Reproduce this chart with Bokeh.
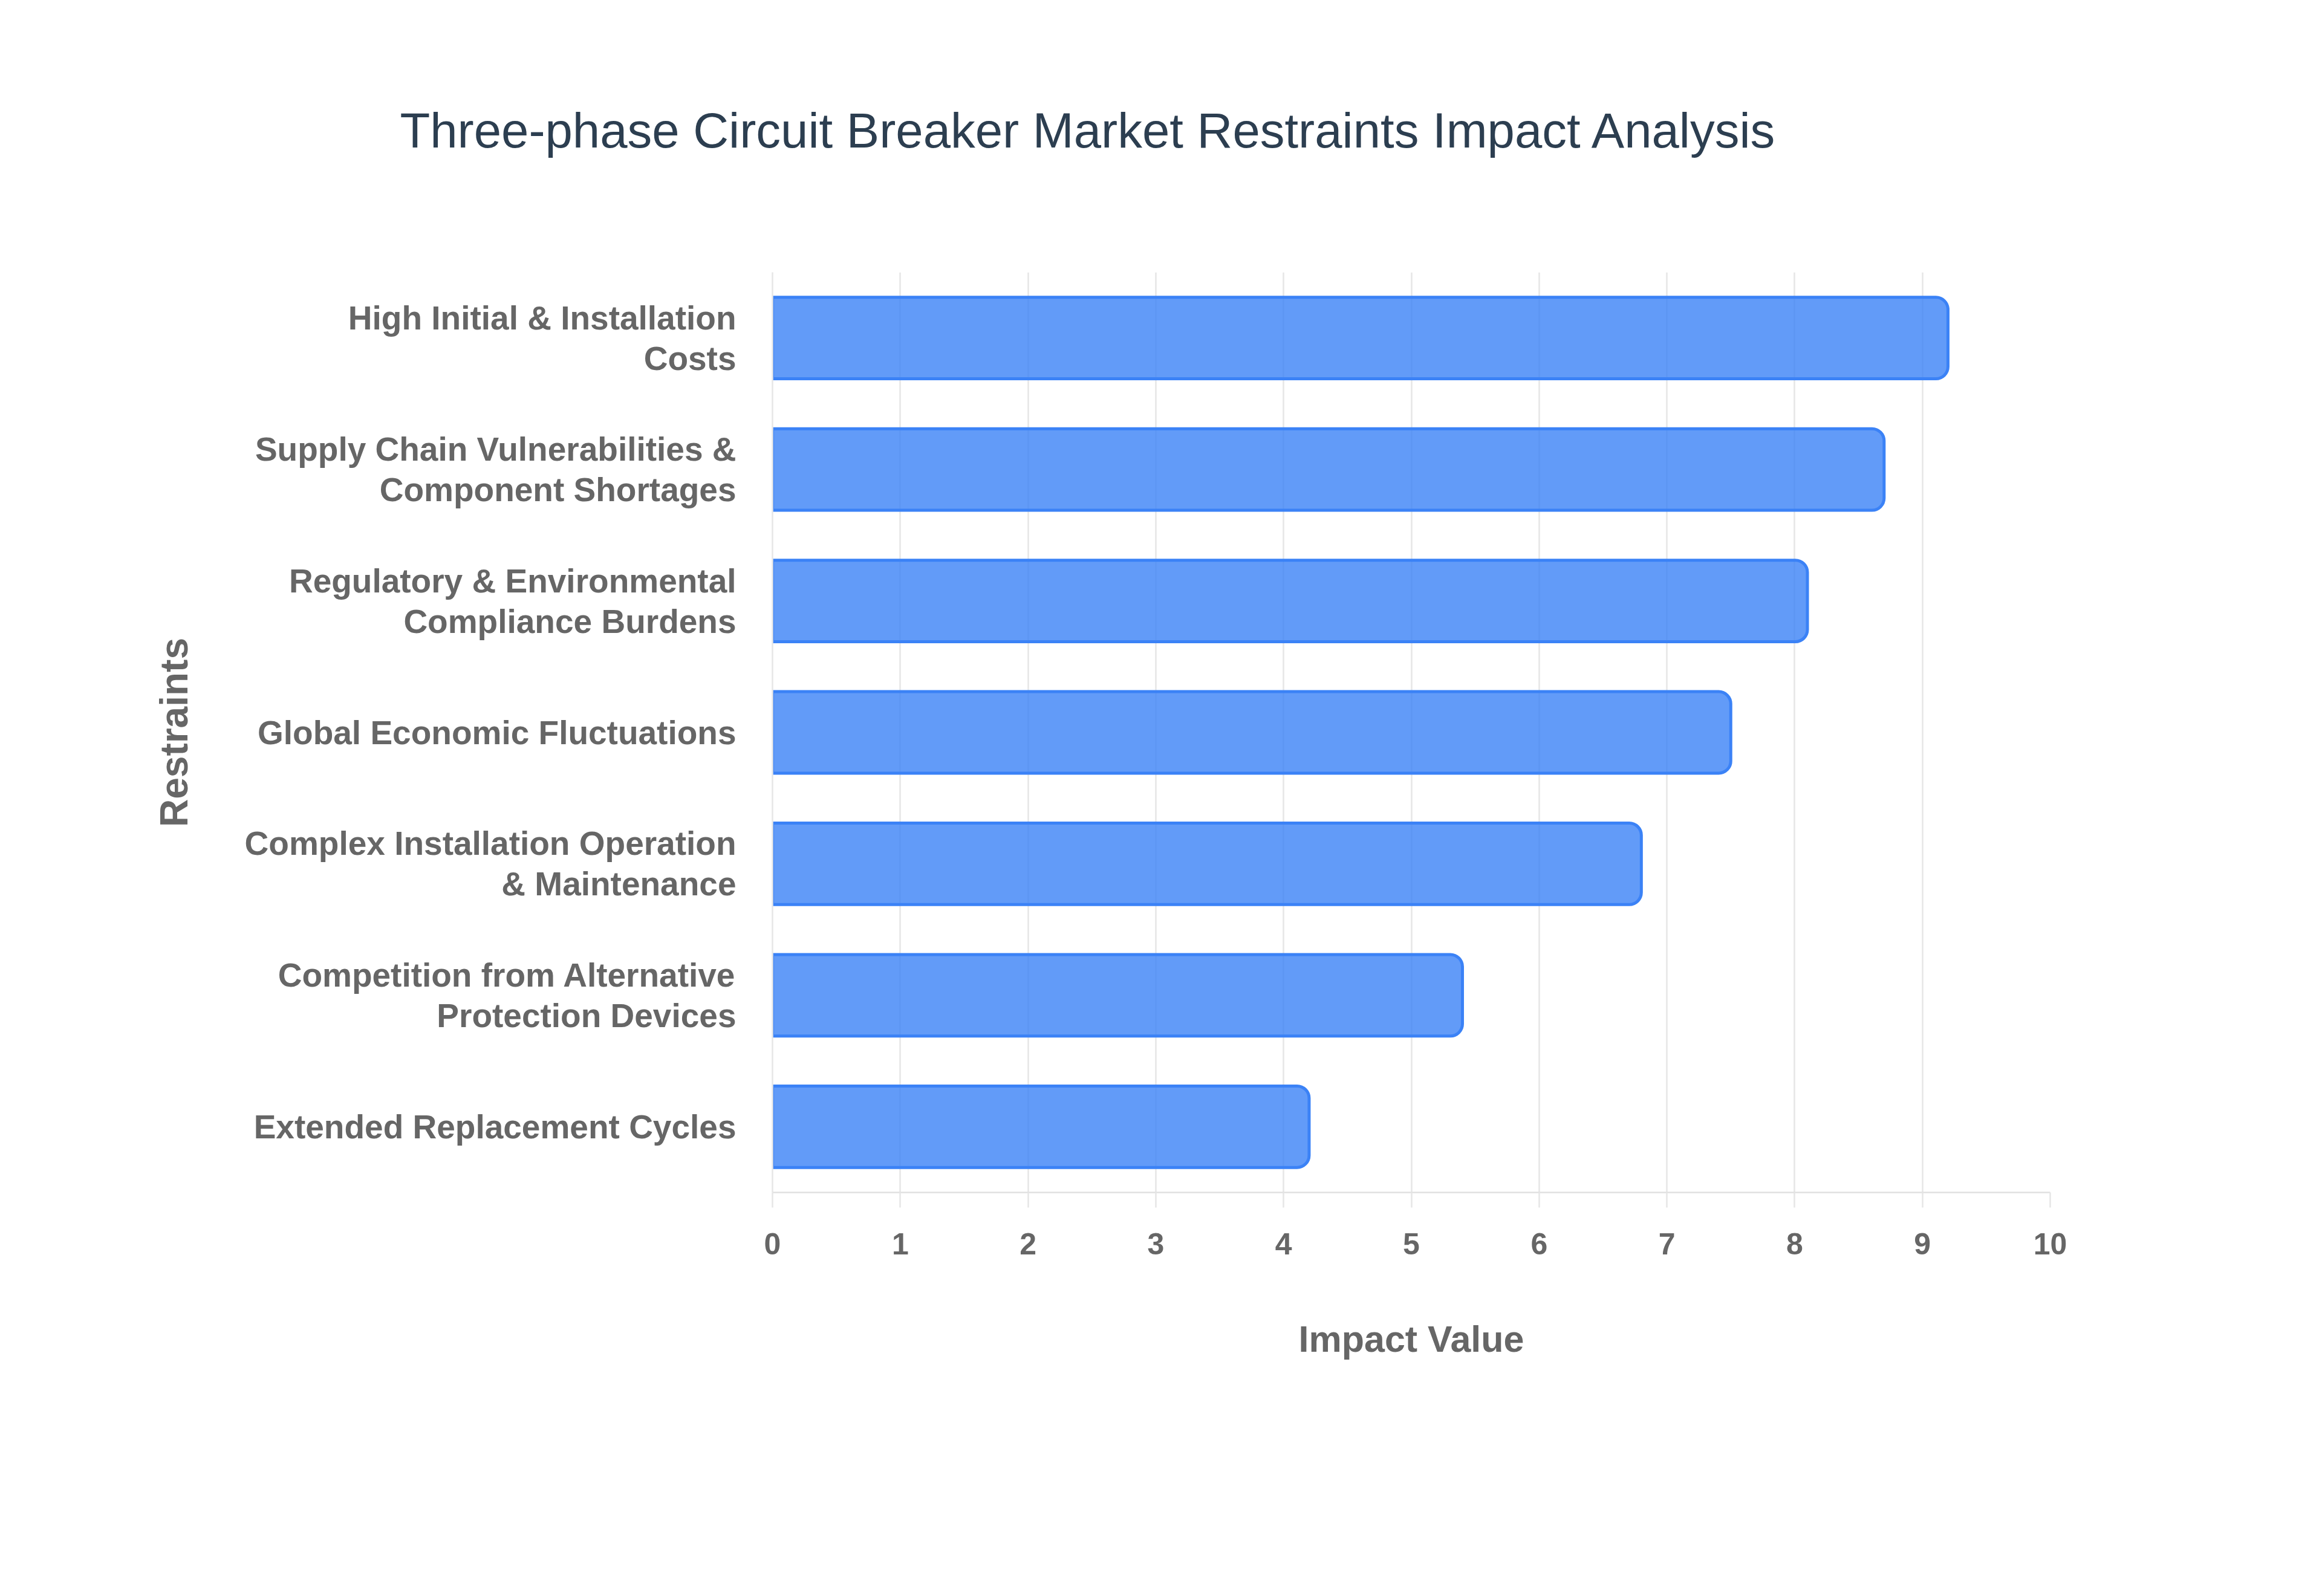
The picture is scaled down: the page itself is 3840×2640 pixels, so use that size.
from bokeh.plotting import figure
from bokeh.models import FactorRange, Range1d, FixedTicker, Title
from bokeh.embed import file_html
from bokeh.resources import INLINE

title_text = "Three-phase Circuit Breaker Market Restraints Impact Analysis"
categories = [
    "High Initial & Installation\nCosts",
    "Supply Chain Vulnerabilities &\nComponent Shortages",
    "Regulatory & Environmental\nCompliance Burdens",
    "Global Economic Fluctuations",
    "Complex Installation Operation\n& Maintenance",
    "Competition from Alternative\nProtection Devices",
    "Extended Replacement Cycles",
]
impact_values = [9.2, 8.7, 8.1, 7.5, 6.8, 5.4, 4.2]
x_ticks = [0, 1, 2, 3, 4, 5, 6, 7, 8, 9, 10]
x_label = "Impact Value"
y_label = "Restraints"

GRAY = "#666666"
GRID = "#e6e6e6"
FONT = "Liberation Sans"

p = figure(
    width=3824, height=2624, title=None,
    y_range=FactorRange(factors=list(reversed(categories)), range_padding=0),
    x_range=Range1d(0, 10),
    output_backend="svg", toolbar_location=None,
    min_border_left=1277, min_border_right=434,
    min_border_top=450, min_border_bottom=652,
)
p.outline_line_color = None
p.background_fill_color = "white"
p.border_fill_color = "white"

p.hbar(y=categories, right=impact_values, left=0, height=0.62,
       fill_color="#3b82f6", fill_alpha=0.8,
       line_color="#3b82f6", line_width=5,
       border_radius=(0, 20, 20, 0))

# small spacer panel between frame and title, then the title itself
spacer = Title(text=" ", text_font_size="2px", standoff=16)
p.add_layout(spacer, "above")
main_title = Title(text=title_text, text_font=FONT, text_font_size="81.5px",
                   text_font_style="normal", text_color="#2c3e50",
                   align="left", vertical_align="top",
                   offset=-616, standoff=336)
p.add_layout(main_title, "above")

# x axis
xa = p.xaxis[0]
xa.ticker = FixedTicker(ticks=x_ticks)
xa.minor_tick_line_color = None
xa.major_tick_in = 0
xa.major_tick_out = 25
xa.major_tick_line_color = GRID
xa.major_tick_line_width = 2.5
xa.axis_line_color = "#e0e0e0"
xa.axis_line_width = 2.5
xa.major_label_standoff = 42
xa.major_label_text_font = FONT
xa.major_label_text_font_style = "bold"
xa.major_label_text_font_size = "50px"
xa.major_label_text_color = GRAY
xa.axis_label = x_label
xa.axis_label_text_font = FONT
xa.axis_label_text_font_style = "bold"
xa.axis_label_text_font_size = "61px"
xa.axis_label_text_color = GRAY
xa.axis_label_standoff = 103

# y axis
ya = p.yaxis[0]
ya.major_tick_line_color = None
ya.minor_tick_line_color = None
ya.major_tick_in = 0
ya.major_tick_out = 0
ya.axis_line_color = GRID
ya.axis_line_width = 2.5
ya.major_label_standoff = 60
ya.major_label_text_font = FONT
ya.major_label_text_font_style = "bold"
ya.major_label_text_font_size = "55px"
ya.major_label_text_color = GRAY
ya.major_label_text_line_height = 1.08
ya.axis_label = y_label
ya.axis_label_text_font = FONT
ya.axis_label_text_font_style = "bold"
ya.axis_label_text_font_size = "64px"
ya.axis_label_text_color = GRAY
ya.axis_label_standoff = 78

p.xgrid.grid_line_color = GRID
p.xgrid.grid_line_width = 2.5
p.ygrid.grid_line_color = None

open("out.html", "w").write(file_html(p, INLINE))
